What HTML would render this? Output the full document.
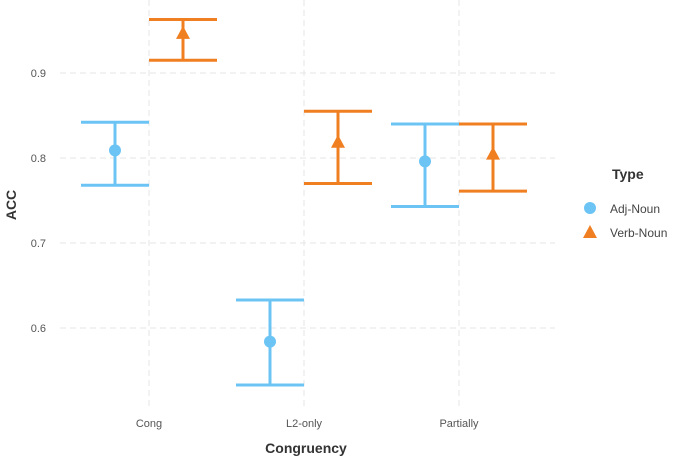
<!DOCTYPE html>
<html><head><meta charset="utf-8"><style>
body{margin:0;background:#fff;font-family:"Liberation Sans",sans-serif}
</style></head><body>
<svg id="chart" width="685" height="457" xmlns="http://www.w3.org/2000/svg">
<g id="grid"></g><g id="marks"></g><g id="axes"></g>
<text x="306" y="453" text-anchor="middle" font-size="14" font-weight="bold" fill="#333">Congruency</text>
<text transform="translate(16,205) rotate(-90)" text-anchor="middle" font-size="14" font-weight="bold" fill="#333">ACC</text>
<g>
<text x="612" y="179" font-size="14" font-weight="bold" fill="#333">Type</text>
<g><circle cx="590" cy="208" r="6" fill="#6cc4f5"/><text x="610" y="213" font-size="12" fill="#444">Adj-Noun</text></g>
<g><polygon points="590,225 597,238 583,238" fill="#f07f22"/><text x="610" y="237" font-size="12" fill="#444">Verb-Noun</text></g>
</g>
</svg>
<script>
const categories=["Cong","L2-only","Partially"];
const adjMean=[0.809,0.584,0.796];
const adjLow=[0.768,0.533,0.743];
const adjHigh=[0.842,0.633,0.840];
const verbMean=[0.946,0.818,0.804];
const verbLow=[0.915,0.770,0.761];
const verbHigh=[0.963,0.855,0.840];
const yTicks=[0.6,0.7,0.8,0.9];
const NS="http://www.w3.org/2000/svg";
function yScale(v){return 73+(0.9-v)*850;}
function xScale(i){return 149+i*155;}
function mk(tag,attrs,parent){const e=document.createElementNS(NS,tag);for(const k in attrs)e.setAttribute(k,attrs[k]);document.getElementById(parent).appendChild(e);return e;}
yTicks.forEach(t=>{
  const l=mk('line',{x1:60,x2:555,y1:yScale(t),y2:yScale(t),stroke:'#e6e6e6','stroke-dasharray':'6,4','stroke-width':1},'grid');
  
  
  const tx=mk('text',{x:46,y:yScale(t)+4,'text-anchor':'end','font-size':11,fill:'#555'},'axes');
  tx.textContent=t.toFixed(1);
  
  
});
categories.forEach((c,i)=>{
  const l=mk('line',{x1:xScale(i),x2:xScale(i),y1:0,y2:410,stroke:'#e6e6e6','stroke-dasharray':'6,4','stroke-width':1},'grid');
  
  
  const tx=mk('text',{x:xScale(i),y:427,'text-anchor':'middle','font-size':11,fill:'#555'},'axes');
  tx.textContent=c;
  
  
});
function series(mean,lo,hi,off,col,tri,name){
  categories.forEach((c,i)=>{
    const cx=xScale(i)+off;
    const yh=yScale(hi[i]), yl=yScale(lo[i]), my=yScale(mean[i]);
    const d='M'+(cx-34)+' '+yh+' H'+(cx+34)+' M'+(cx-34)+' '+yl+' H'+(cx+34)+' M'+cx+' '+yh+' V'+yl;
    const eb=mk('path',{d:d,stroke:col,'stroke-width':3,fill:'none'},'marks');
    
    
    let m;
    if(tri) m=mk('polygon',{points:cx+','+(my-8)+' '+(cx+7)+','+(my+5)+' '+(cx-7)+','+(my+5),fill:col},'marks');
    else m=mk('circle',{cx:cx,cy:my,r:6,fill:col},'marks');
    
    
  });
}
series(adjMean,adjLow,adjHigh,-34,'#6cc4f5',false,'adj-noun');
series(verbMean,verbLow,verbHigh,34,'#f07f22',true,'verb-noun');
</script>
</body></html>
